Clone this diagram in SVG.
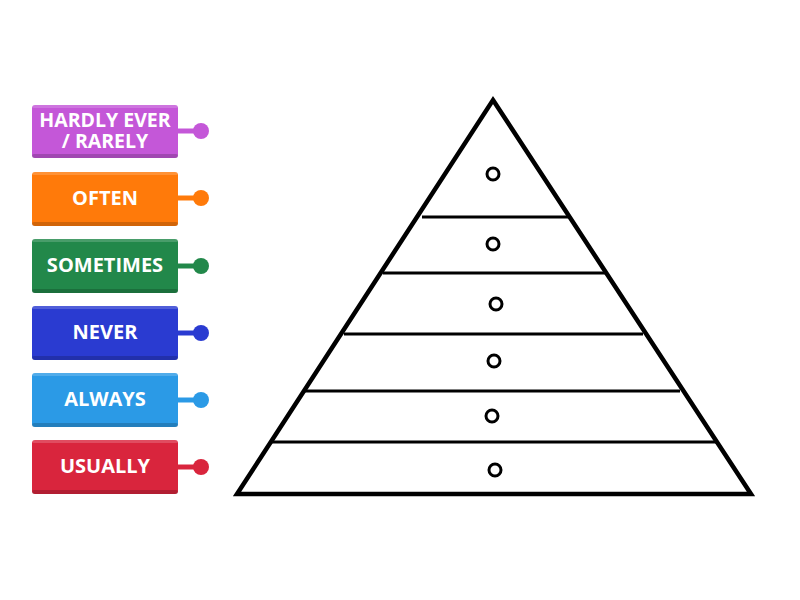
<svg xmlns="http://www.w3.org/2000/svg" width="800" height="600" viewBox="0 0 800 600">
<style>
.lbl{font-family:"Open Sans","Liberation Sans",sans-serif;font-weight:bold;font-size:20px;fill:#ffffff;text-anchor:middle}
.sm{font-size:19.5px}
.shade{fill:#000000;opacity:0.18}
.hi{fill:#ffffff;opacity:0.18}
.pyr{fill:none;stroke:#000000;stroke-width:4.5;stroke-linejoin:miter}
.div{stroke:#000000;stroke-width:3}
.dot{fill:none;stroke:#000000;stroke-width:3}
</style>
<rect width="800" height="600" fill="#ffffff"/>
<g id="connectors">
  <line x1="176" y1="131" x2="200" y2="131" stroke="#c457d8" stroke-width="5"/>
  <circle cx="201" cy="131" r="8" fill="#c457d8"/>
  <line x1="176" y1="198" x2="200" y2="198" stroke="#ff7a0a" stroke-width="5"/>
  <circle cx="201" cy="198" r="8" fill="#ff7a0a"/>
  <line x1="176" y1="266" x2="200" y2="266" stroke="#22884a" stroke-width="5"/>
  <circle cx="201" cy="266" r="8" fill="#22884a"/>
  <line x1="176" y1="333" x2="200" y2="333" stroke="#2a3bd1" stroke-width="5"/>
  <circle cx="201" cy="333" r="8" fill="#2a3bd1"/>
  <line x1="176" y1="400" x2="200" y2="400" stroke="#2b9ae6" stroke-width="5"/>
  <circle cx="201" cy="400" r="8" fill="#2b9ae6"/>
  <line x1="176" y1="467" x2="200" y2="467" stroke="#d9253d" stroke-width="5"/>
  <circle cx="201" cy="467" r="8" fill="#d9253d"/>
</g>
<g id="node-hardly">
  <rect x="32" y="105" width="146" height="53" rx="3" fill="#c457d8"/>
  <rect x="32" y="154" width="146" height="4" rx="2" class="shade"/>
  <rect x="32" y="105" width="146" height="3" rx="2" class="hi"/>
  <text class="lbl sm"><tspan x="105" y="127">HARDLY EVER</tspan><tspan x="105" y="148">/ RARELY</tspan></text>
</g>
<g id="node-often">
  <rect x="32" y="172" width="146" height="54" rx="3" fill="#ff7a0a"/>
  <rect x="32" y="222" width="146" height="4" rx="2" class="shade"/>
  <rect x="32" y="172" width="146" height="3" rx="2" class="hi"/>
  <text x="105" y="205" class="lbl">OFTEN</text>
</g>
<g id="node-sometimes">
  <rect x="32" y="239" width="146" height="54" rx="3" fill="#22884a"/>
  <rect x="32" y="289" width="146" height="4" rx="2" class="shade"/>
  <rect x="32" y="239" width="146" height="3" rx="2" class="hi"/>
  <text x="105" y="272" class="lbl">SOMETIMES</text>
</g>
<g id="node-never">
  <rect x="32" y="306" width="146" height="54" rx="3" fill="#2a3bd1"/>
  <rect x="32" y="356" width="146" height="4" rx="2" class="shade"/>
  <rect x="32" y="306" width="146" height="3" rx="2" class="hi"/>
  <text x="105" y="339" class="lbl">NEVER</text>
</g>
<g id="node-always">
  <rect x="32" y="373" width="146" height="54" rx="3" fill="#2b9ae6"/>
  <rect x="32" y="423" width="146" height="4" rx="2" class="shade"/>
  <rect x="32" y="373" width="146" height="3" rx="2" class="hi"/>
  <text x="105" y="406" class="lbl">ALWAYS</text>
</g>
<g id="node-usually">
  <rect x="32" y="440" width="146" height="54" rx="3" fill="#d9253d"/>
  <rect x="32" y="490" width="146" height="4" rx="2" class="shade"/>
  <rect x="32" y="440" width="146" height="3" rx="2" class="hi"/>
  <text x="105" y="473" class="lbl">USUALLY</text>
</g>
<g id="pyramid">
  <polygon points="493,100 751,494 237,494" class="pyr"/>
  <line x1="422" y1="217" x2="568" y2="217" class="div"/>
  <line x1="383" y1="273" x2="605" y2="273" class="div"/>
  <line x1="344" y1="334" x2="643" y2="334" class="div"/>
  <line x1="305" y1="391" x2="680" y2="391" class="div"/>
  <line x1="271" y1="442" x2="716" y2="442" class="div"/>
  <circle cx="493" cy="174" r="6" class="dot"/>
  <circle cx="493" cy="244" r="6" class="dot"/>
  <circle cx="496" cy="304" r="6" class="dot"/>
  <circle cx="494" cy="361" r="6" class="dot"/>
  <circle cx="492" cy="416" r="6" class="dot"/>
  <circle cx="495" cy="470" r="6" class="dot"/>
</g>
</svg>
